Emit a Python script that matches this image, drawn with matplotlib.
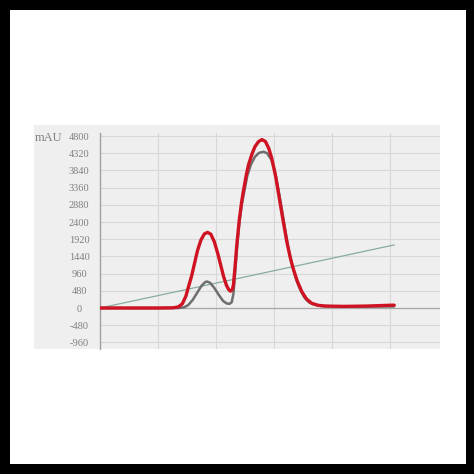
import matplotlib
matplotlib.use('Agg')
import matplotlib.pyplot as plt
from matplotlib.patches import Rectangle

# Chromatogram traces (x in grid units, y in mAU)
red_x = [0, 0.5, 1.0, 1.25, 1.35, 1.42, 1.48, 1.53, 1.58, 1.63, 1.68, 1.74, 1.80, 1.855,
         1.91, 1.97, 2.03, 2.08, 2.13, 2.18, 2.22, 2.25, 2.28, 2.30, 2.33, 2.36, 2.40,
         2.44, 2.47, 2.52, 2.56, 2.62, 2.67, 2.73, 2.79, 2.85, 2.91, 2.96, 3.03, 3.10,
         3.16, 3.22, 3.28, 3.33, 3.40, 3.48, 3.56, 3.65, 3.76, 3.88, 4.2, 4.6, 5.07]
red_y = [0, 0, 0, 5, 30, 120, 330, 620, 900, 1250, 1600, 1900, 2070, 2110,
         2060, 1850, 1520, 1200, 880, 630, 510, 470, 510, 650, 1200, 1800, 2450,
         2950, 3250, 3700, 4000, 4300, 4500, 4640, 4700, 4650, 4450, 4180, 3650, 2970,
         2400, 1850, 1400, 1100, 750, 450, 250, 130, 75, 55, 45, 55, 80]

grey_x = [0, 1.0, 1.35, 1.45, 1.52, 1.60, 1.68, 1.75, 1.81, 1.845, 1.90, 1.97, 2.05,
          2.12, 2.18, 2.23, 2.27, 2.30, 2.33, 2.36, 2.40, 2.44, 2.48, 2.54, 2.60, 2.67,
          2.74, 2.82, 2.88, 2.95, 3.01, 3.07, 3.13, 3.19, 3.25, 3.31, 3.37, 3.44, 3.52,
          3.60, 3.70, 3.82, 4.2, 4.6, 5.07]
grey_y = [0, 0, 0, 20, 80, 230, 440, 620, 720, 740, 700, 560, 360,
          200, 130, 115, 160, 400, 1000, 1650, 2350, 2850, 3200, 3700, 4000, 4220,
          4330, 4360, 4320, 4150, 3850, 3350, 2800, 2200, 1650, 1200, 850, 550, 300,
          160, 90, 55, 40, 40, 45]

green_x = [0, 5.07]
green_y = [0, 1760]

yticks = list(range(-960, 4801, 480))

W = 474
fig = plt.figure(figsize=(4.74, 4.74), dpi=100, facecolor='black')
# white card inside the black frame
fig.patches.append(Rectangle((9.5 / W, 10 / W), 456 / W, 454 / W,
                             transform=fig.transFigure, facecolor='white',
                             edgecolor='none', zorder=-3))
# grey chart panel
fig.patches.append(Rectangle((34 / W, 125 / W), 406 / W, 224 / W,
                             transform=fig.transFigure, facecolor='#efefef',
                             edgecolor='none', zorder=-2))

ax = fig.add_axes([100 / W, 125 / W, 340 / W, 216 / W])
ax.set_facecolor('#efefef')

ax.plot(green_x, green_y, color='#86ad9d', lw=0.9, zorder=3)
ax.plot(grey_x, grey_y, color='#6e6e6e', lw=1.8, zorder=4, solid_capstyle='round')
ax.plot(red_x, red_y, color='#cf1322', lw=2.4, zorder=5, solid_capstyle='round',
        solid_joinstyle='round')

ax.set_xlim(0, 5.86)
ax.set_ylim(-1144, 4884)
ax.set_xticks([1, 2, 3, 4, 5])
ax.set_xticklabels([])
ax.set_yticks(yticks)
ax.set_yticklabels([str(v) for v in yticks], family='Liberation Serif',
                   fontsize=7.5, color='#808080', ha='center')
ax.tick_params(axis='both', length=0)
ax.tick_params(axis='y', pad=15)
ax.grid(True, color='#d8d8d8', lw=0.8)
ax.axhline(0, color='#a8a8a8', lw=0.9, zorder=2)

for s in ['top', 'right', 'bottom']:
    ax.spines[s].set_visible(False)
ax.spines['left'].set_color('#a0a0a0')
ax.spines['left'].set_linewidth(1.0)

fig.text(49 / W, 1 - 138 / W, 'mAU', family='Liberation Serif', fontsize=9,
         color='#808080', ha='center', va='center')

fig.savefig('out.png', dpi=100, facecolor=fig.get_facecolor())
